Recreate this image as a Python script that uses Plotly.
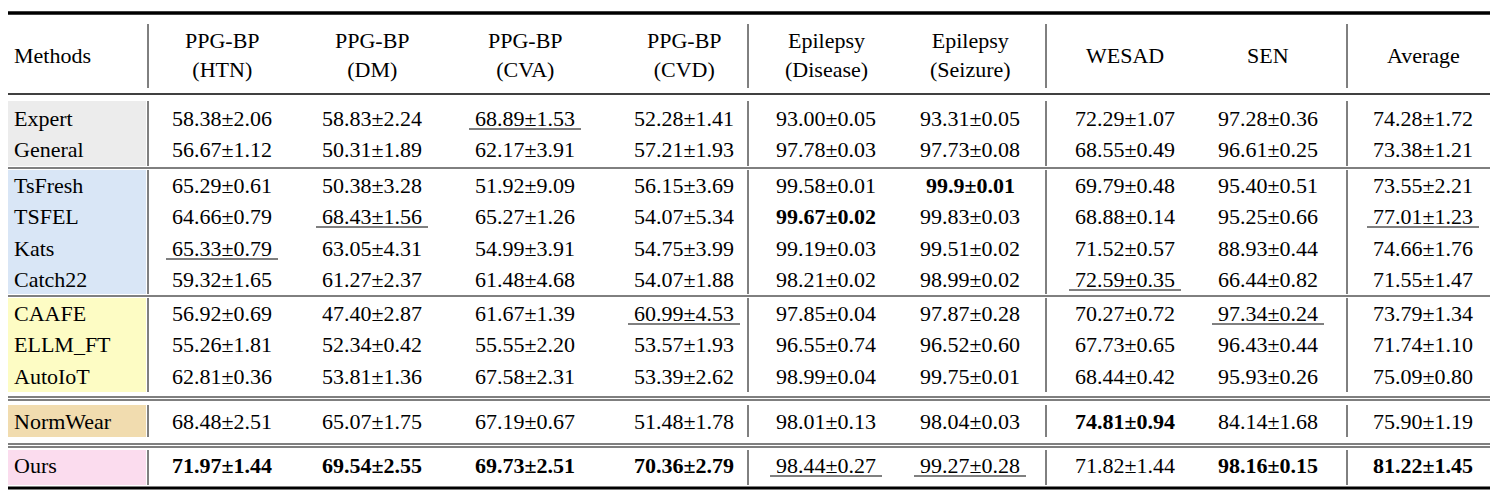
import plotly.graph_objects as go

methods = ["Expert", "General", "TsFresh", "TSFEL", "Kats", "Catch22",
           "CAAFE", "ELLM_FT", "AutoIoT", "NormWear", "Ours"]
headers = ["PPG-BP<br>(HTN)", "PPG-BP<br>(DM)", "PPG-BP<br>(CVA)", "PPG-BP<br>(CVD)",
           "Epilepsy<br>(Disease)", "Epilepsy<br>(Seizure)", "WESAD", "SEN", "Average"]

htn = ["58.38±2.06", "56.67±1.12", "65.29±0.61", "64.66±0.79", "65.33±0.79", "59.32±1.65",
       "56.92±0.69", "55.26±1.81", "62.81±0.36", "68.48±2.51", "71.97±1.44"]
dm = ["58.83±2.24", "50.31±1.89", "50.38±3.28", "68.43±1.56", "63.05±4.31", "61.27±2.37",
      "47.40±2.87", "52.34±0.42", "53.81±1.36", "65.07±1.75", "69.54±2.55"]
cva = ["68.89±1.53", "62.17±3.91", "51.92±9.09", "65.27±1.26", "54.99±3.91", "61.48±4.68",
       "61.67±1.39", "55.55±2.20", "67.58±2.31", "67.19±0.67", "69.73±2.51"]
cvd = ["52.28±1.41", "57.21±1.93", "56.15±3.69", "54.07±5.34", "54.75±3.99", "54.07±1.88",
       "60.99±4.53", "53.57±1.93", "53.39±2.62", "51.48±1.78", "70.36±2.79"]
disease = ["93.00±0.05", "97.78±0.03", "99.58±0.01", "99.67±0.02", "99.19±0.03", "98.21±0.02",
           "97.85±0.04", "96.55±0.74", "98.99±0.04", "98.01±0.13", "98.44±0.27"]
seizure = ["93.31±0.05", "97.73±0.08", "99.9±0.01", "99.83±0.03", "99.51±0.02", "98.99±0.02",
           "97.87±0.28", "96.52±0.60", "99.75±0.01", "98.04±0.03", "99.27±0.28"]
wesad = ["72.29±1.07", "68.55±0.49", "69.79±0.48", "68.88±0.14", "71.52±0.57", "72.59±0.35",
         "70.27±0.72", "67.73±0.65", "68.44±0.42", "74.81±0.94", "71.82±1.44"]
sen = ["97.28±0.36", "96.61±0.25", "95.40±0.51", "95.25±0.66", "88.93±0.44", "66.44±0.82",
       "97.34±0.24", "96.43±0.44", "95.93±0.26", "84.14±1.68", "98.16±0.15"]
average = ["74.28±1.72", "73.38±1.21", "73.55±2.21", "77.01±1.23", "74.66±1.76", "71.55±1.47",
           "73.79±1.34", "71.74±1.10", "75.09±0.80", "75.90±1.19", "81.22±1.45"]
columns = [htn, dm, cva, cvd, disease, seizure, wesad, sen, average]

# row index of best (bold) and second best (underline) per column
best = [10, 10, 10, 10, 3, 2, 9, 10, 10]
second = [4, 3, 0, 6, 10, 10, 5, 6, 3]

# layout in page pixels
col_x = [222, 372, 525, 684, 826, 970, 1125, 1268, 1423]
row_y = [118, 149, 185, 216, 248, 279, 313, 344, 376, 421, 465]
vlines = [148, 748, 1046, 1347]
blocks = [(101, 166, "#ececec"), (170, 294, "#d9e6f6"), (298, 392, "#fdfcc4"),
          (405, 437, "#f1dcaf"), (450, 485, "#fbdcee")]
FONT = "Liberation Serif, Times New Roman, serif"

fig = go.Figure()
fig.add_trace(go.Scatter(x=[8, 1506], y=[8, 498], mode="markers",
                         marker=dict(opacity=0), hoverinfo="skip", showlegend=False))

shapes = []
for y0, y1, color in blocks:
    shapes.append(dict(type="rect", x0=0, x1=146, y0=y0, y1=y1,
                       fillcolor=color, line=dict(width=0), layer="below"))
    for vx in vlines:
        shapes.append(dict(type="line", x0=vx, x1=vx, y0=y0, y1=y1,
                           line=dict(color="black", width=1)))
for vx in vlines:
    shapes.append(dict(type="line", x0=vx, x1=vx, y0=24, y1=88,
                       line=dict(color="black", width=1)))
for y, w in [(13, 3.5), (94, 1.5), (168, 1), (296, 1), (397, 1.2), (400, 1.2),
             (444, 1.2), (447, 1.2), (488, 3)]:
    shapes.append(dict(type="line", x0=0, x1=1498, y0=y, y1=y,
                       line=dict(color="black", width=w)))

ann = []
ann.append(dict(x=12, y=55, text="Methods", xanchor="left", showarrow=False,
                font=dict(family=FONT, size=22, color="black")))
for cx, h in zip(col_x, headers):
    ann.append(dict(x=cx, y=55, text=h, showarrow=False,
                    font=dict(family=FONT, size=22, color="black")))
for ry, m in zip(row_y, methods):
    ann.append(dict(x=12, y=ry, text=m, xanchor="left", showarrow=False,
                    font=dict(family=FONT, size=22, color="black")))
for ci, (cx, col) in enumerate(zip(col_x, columns)):
    for ri, (ry, val) in enumerate(zip(row_y, col)):
        txt = val
        if ri == best[ci]:
            txt = "<b>" + val + "</b>"
        ann.append(dict(x=cx, y=ry, text=txt, showarrow=False,
                        font=dict(family=FONT, size=22, color="black")))
        if ri == second[ci]:
            shapes.append(dict(type="line", x0=cx - 56, x1=cx + 56, y0=ry + 11, y1=ry + 11,
                               line=dict(color="black", width=1)))

fig.update_layout(
    width=1498, height=490,
    margin=dict(l=0, r=0, t=0, b=0),
    paper_bgcolor="white", plot_bgcolor="white",
    xaxis=dict(range=[8, 1506], visible=False, fixedrange=True),
    yaxis=dict(range=[498, 8], visible=False, fixedrange=True),
    shapes=shapes, annotations=ann,
)
fig.write_html("out.html")
